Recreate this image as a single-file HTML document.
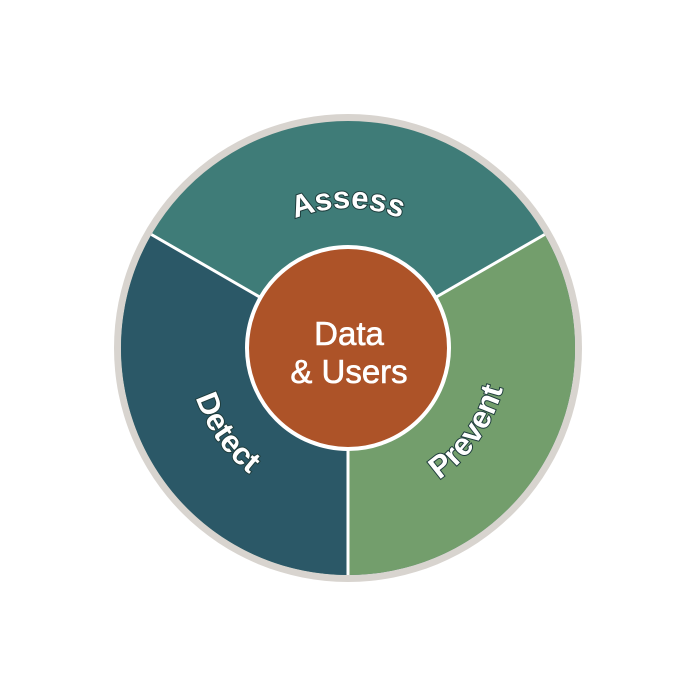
<!DOCTYPE html>
<html><head><style>html,body{margin:0;padding:0;background:#fff;}svg{display:block;}</style></head>
<body>
<svg width="696" height="696" viewBox="0 0 696 696" xmlns="http://www.w3.org/2000/svg">
<defs>
<path id="pa" d="M226.8,278 A140,140 0 0 1 469.2,278"/>
<path id="pp" d="M375.8,505.6 A160,160 0 0 0 505.6,320.2"/>
<path id="pd" d="M190.4,320.2 A160,160 0 0 0 320.2,505.6"/>
</defs>
<circle cx="348" cy="348" r="234" fill="#d8d4cf"/>
<circle cx="348" cy="348" r="227" fill="#3f7c78"/>
<path d="M348,348 L348,575 A227,227 0 0 1 151.4,234.5 Z" fill="#2b5867"/>
<path d="M348,348 L544.6,234.5 A227,227 0 0 1 348,575 Z" fill="#739e6c"/>
<g stroke="#fff" stroke-width="3">
<line x1="348" y1="348" x2="348" y2="575"/>
<line x1="348" y1="348" x2="151.4" y2="234.5"/>
<line x1="348" y1="348" x2="544.6" y2="234.5"/>
</g>
<circle cx="348" cy="348" r="101" fill="#ad5328" stroke="#fff" stroke-width="4"/>
<g font-family="Liberation Sans, sans-serif" font-weight="bold" font-size="31" fill="#fff" stroke="#1e3c3c" stroke-width="2" paint-order="stroke">
<text><textPath href="#pa" startOffset="50%" text-anchor="middle">Assess</textPath></text>
<text><textPath href="#pp" startOffset="50%" text-anchor="middle">Prevent</textPath></text>
<text><textPath href="#pd" startOffset="50%" text-anchor="middle">Detect</textPath></text>
</g>
<g font-family="Liberation Sans, sans-serif" font-size="33" fill="#fff" stroke="#fff" stroke-width="0.6" text-anchor="middle">
<text x="349" y="345">Data</text>
<text x="349" y="383">&amp; Users</text>
</g>
</svg>
</body></html>
